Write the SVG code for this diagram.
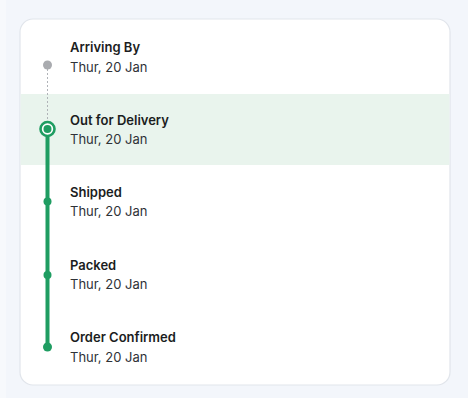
<svg xmlns="http://www.w3.org/2000/svg" width="474" height="401" viewBox="0 0 474 401">
<style>
.t{font-family:Inter,"Liberation Sans",sans-serif;font-size:13px;font-weight:600;fill:#1b1d21}
.d{font-family:Inter,"Liberation Sans",sans-serif;font-size:13px;font-weight:400;fill:#2f3237}
.dot{fill:#1f9d62}
</style>
<rect x="0" y="0" width="474" height="401" fill="#ffffff"/>
<rect x="0" y="0" width="468" height="398" fill="#f3f6fb"/>
<rect x="0" y="0" width="6" height="398" fill="#f7f9fc"/>
<rect x="20" y="19" width="430" height="366" rx="13" fill="#ffffff" stroke="#e1e5eb" stroke-width="1.2"/>
<rect x="20.6" y="94" width="428.8" height="71" fill="#e9f4ed"/>
<g id="connectors">
<line x1="47.5" y1="69" x2="47.5" y2="121" stroke="#b0b3b8" stroke-width="1" stroke-dasharray="2,2"/>
<line x1="47.5" y1="129" x2="47.5" y2="347" stroke="#1f9d62" stroke-width="4"/>
</g>
<g id="arriving">
<circle cx="47.5" cy="65" r="4.5" fill="#a9abaf"/>
<text class="t" x="70" y="52">Arriving By</text>
<text class="d" x="70" y="72">Thur, 20 Jan</text>
</g>
<g id="out-for-delivery">
<circle cx="47.5" cy="129" r="7" fill="#ffffff" stroke="#1f9d62" stroke-width="2.6"/>
<circle cx="47.5" cy="129" r="4" class="dot"/>
<text class="t" x="70" y="125">Out for Delivery</text>
<text class="d" x="70" y="144">Thur, 20 Jan</text>
</g>
<g id="shipped">
<circle cx="47.5" cy="201.5" r="4" class="dot"/>
<text class="t" x="70" y="197">Shipped</text>
<text class="d" x="70" y="216">Thur, 20 Jan</text>
</g>
<g id="packed">
<circle cx="47.5" cy="275" r="4" class="dot"/>
<text class="t" x="70" y="270">Packed</text>
<text class="d" x="70" y="289">Thur, 20 Jan</text>
</g>
<g id="order-confirmed">
<circle cx="47.5" cy="347" r="4.5" class="dot"/>
<text class="t" x="70" y="342">Order Confirmed</text>
<text class="d" x="70" y="362">Thur, 20 Jan</text>
</g>
</svg>
